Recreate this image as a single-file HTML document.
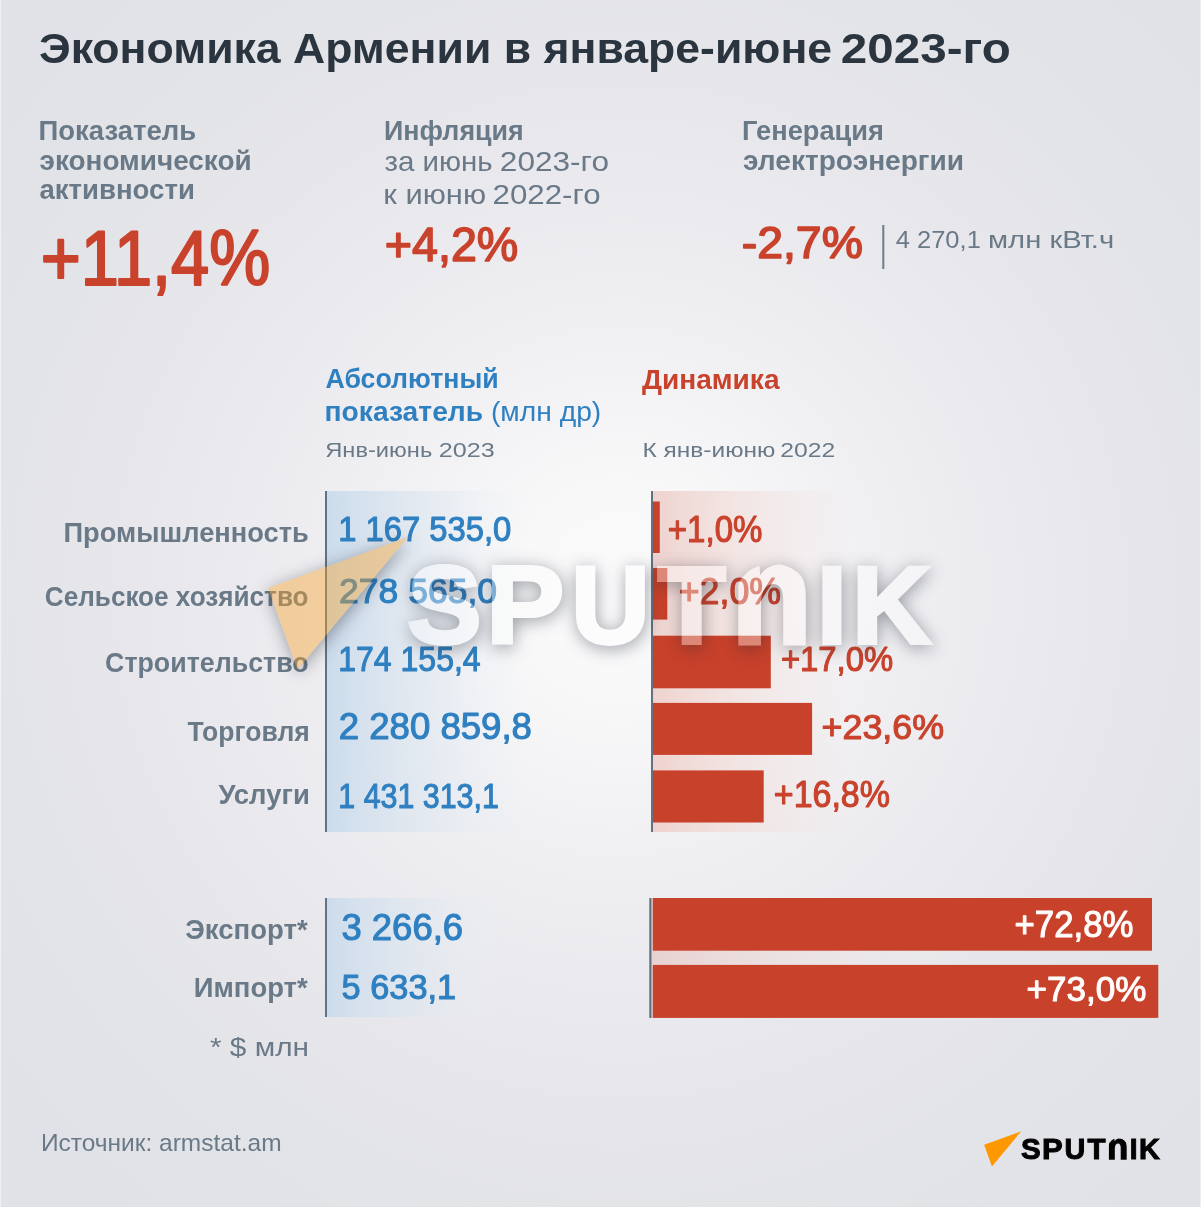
<!DOCTYPE html>
<html lang="ru"><head><meta charset="utf-8"><title>Экономика Армении в январе-июне 2023-го</title>
<style>
html,body{margin:0;padding:0;background:#e3e4e9;}
body{width:1201px;height:1207px;overflow:hidden;position:relative;}
svg{display:block;position:absolute;left:0;top:0;}
text{font-family:'Liberation Sans', 'Noto Sans CJK SC', sans-serif;}
</style></head><body>
<svg width="1201" height="1207" viewBox="0 0 1201 1207">
<defs>
 <radialGradient id="bg" gradientUnits="userSpaceOnUse" cx="620" cy="590" r="800">
  <stop offset="0" stop-color="#fbfbfc"/>
  <stop offset="0.14" stop-color="#f8f8f9"/>
  <stop offset="0.3" stop-color="#f1f1f4"/>
  <stop offset="0.475" stop-color="#ebebef"/>
  <stop offset="0.63" stop-color="#e7e7eb"/>
  <stop offset="0.8" stop-color="#e3e4e8"/>
  <stop offset="1" stop-color="#e1e2e7"/>
 </radialGradient>
 <linearGradient id="blueg" x1="0" y1="0" x2="1" y2="0">
  <stop offset="0" stop-color="#ccdcec" stop-opacity="1"/>
  <stop offset="0.45" stop-color="#dbe5ef" stop-opacity="0.65"/>
  <stop offset="1" stop-color="#e8edf3" stop-opacity="0"/>
 </linearGradient>
 <linearGradient id="redg" x1="0" y1="0" x2="1" y2="0">
  <stop offset="0" stop-color="#efd3cf" stop-opacity="1"/>
  <stop offset="0.45" stop-color="#f1dfdc" stop-opacity="0.65"/>
  <stop offset="1" stop-color="#f2e8e8" stop-opacity="0"/>
 </linearGradient>
 <linearGradient id="redg2" x1="0" y1="0" x2="1" y2="0">
  <stop offset="0" stop-color="#e8d2d1" stop-opacity="1"/>
  <stop offset="0.45" stop-color="#ecdcdc" stop-opacity="0.65"/>
  <stop offset="1" stop-color="#eee6e8" stop-opacity="0"/>
 </linearGradient>
 <filter id="wmsh" x="-20%" y="-60%" width="140%" height="220%" color-interpolation-filters="sRGB">
  <feGaussianBlur in="SourceAlpha" stdDeviation="8.5" result="blur"/>
  <feOffset in="blur" dx="1" dy="3" result="off"/>
  <feComposite in="off" in2="SourceAlpha" operator="out" result="ko"/>
  <feFlood flood-color="#1c2230" flood-opacity="0.42"/>
  <feComposite in2="ko" operator="in"/>
 </filter>
<clipPath id="nclip" clipPathUnits="userSpaceOnUse"><rect x="736.8" y="563.6" width="71.2" height="150" rx="35.6" ry="30"/></clipPath>
 <filter id="nop" x="-5%" y="-5%" width="110%" height="110%"><feOffset dx="0" dy="0"/></filter>
</defs>
<rect x="0" y="0" width="1201" height="1207" fill="url(#bg)"/>
<rect x="0" y="0" width="1" height="1207" fill="#f0f0f3"/>
<rect x="1200" y="0" width="1" height="1207" fill="#eeeef1"/>

<rect x="327" y="491" width="200" height="341" fill="url(#blueg)"/>
<rect x="327" y="898" width="175" height="119" fill="url(#blueg)"/>
<rect x="653" y="491" width="215" height="341" fill="url(#redg)"/>
<rect x="651.5" y="898" width="300" height="120" fill="url(#redg2)"/>
<rect x="652" y="501.5" width="7.8" height="51.5" fill="#c8412a"/>
<rect x="652" y="568" width="15.3" height="51.6" fill="#c8412a"/>
<rect x="652" y="635.7" width="118.8" height="52.6" fill="#c8412a"/>
<rect x="652" y="702.9" width="160.1" height="52" fill="#c8412a"/>
<rect x="652" y="770.4" width="111.7" height="52.1" fill="#c8412a"/>
<rect x="652.8" y="898" width="499.2" height="52.7" fill="#c8412a"/>
<rect x="652.8" y="964.9" width="505.5" height="53" fill="#c8412a"/>
<g opacity="0.99">
<text transform="translate(38.94 63) scale(1.0618 1)" font-size="42" font-weight="700" fill="#29333e">Экономика Армении в январе-июне</text>
<text transform="translate(840.87 63) scale(1.1324 1)" font-size="42" font-weight="700" fill="#29333e">2023-го</text>
<text transform="translate(38.52 140) scale(0.9821 1)" font-size="28" font-weight="700" fill="#687886">Показатель</text>
<text transform="translate(39.5 170) scale(0.9973 1)" font-size="28" font-weight="700" fill="#687886">экономической</text>
<text transform="translate(39.5 199) scale(0.9846 1)" font-size="28" font-weight="700" fill="#687886">активности</text>
<text transform="translate(40.81 285) scale(0.8906 1)" font-size="77" font-weight="400" fill="#c9402a" stroke="#c9402a" stroke-width="2.2" stroke-linejoin="round">+11,4%</text>
<text transform="translate(384.04 140) scale(0.9589 1)" font-size="28" font-weight="700" fill="#687886">Инфляция</text>
<text transform="translate(384.4 171) scale(1.0519 1)" font-size="28" font-weight="400" fill="#687886">за июнь</text>
<text transform="translate(499.87 171) scale(1.1280 1)" font-size="28" font-weight="400" fill="#687886">2023-го</text>
<text transform="translate(383.3 204) scale(1.1039 1)" font-size="28" font-weight="400" fill="#687886">к июню</text>
<text transform="translate(492.48 204) scale(1.1175 1)" font-size="28" font-weight="400" fill="#687886">2022-го</text>
<text transform="translate(384.83 261) scale(0.9715 1)" font-size="48" font-weight="400" fill="#c9402a" stroke="#c9402a" stroke-width="1.6" stroke-linejoin="round">+4,2%</text>
<text transform="translate(742.03 140) scale(0.9728 1)" font-size="28" font-weight="700" fill="#687886">Генерация</text>
<text transform="translate(743 170) scale(1.0034 1)" font-size="28" font-weight="700" fill="#687886">электроэнергии</text>
<text transform="translate(741.76 258.3) scale(1.0306 1)" font-size="45" font-weight="400" fill="#c9402a" stroke="#c9402a" stroke-width="1.6" stroke-linejoin="round">-2,7%</text>
<text transform="translate(895.7 248.3) scale(1.1100 1)" font-size="23" font-weight="400" fill="#687886">4 270,1</text>
<text transform="translate(988.03 248.3) scale(1.2708 1)" font-size="23" font-weight="400" fill="#687886">млн кВт.ч</text>
<text transform="translate(325.5 388) scale(0.9540 1)" font-size="28" font-weight="700" fill="#2d7fc1">Абсолютный</text>
<text transform="translate(324.49 421) scale(1.0085 1)" font-size="28" font-weight="700" fill="#2d7fc1"><tspan font-weight="700">показатель</tspan><tspan font-weight="400"> (млн др)</tspan></text>
<text transform="translate(325.2 457) scale(1.1285 1)" font-size="21" font-weight="400" fill="#687886">Янв-июнь</text>
<text transform="translate(438.7 457) scale(1.1990 1)" font-size="21" font-weight="400" fill="#687886">2023</text>
<text transform="translate(642 389) scale(1.0030 1)" font-size="28" font-weight="700" fill="#c9402a">Динамика</text>
<text transform="translate(642.53 457) scale(1.1660 1)" font-size="21" font-weight="400" fill="#687886">К янв-июню</text>
<text transform="translate(780.32 457) scale(1.1768 1)" font-size="21" font-weight="400" fill="#687886">2022</text>
<text transform="translate(63.53 542) scale(0.9734 1)" font-size="28" font-weight="700" fill="#687886">Промышленность</text>
<text transform="translate(44.87 605.6) scale(0.9330 1)" font-size="28" font-weight="700" fill="#687886">Сельское хозяйство</text>
<text transform="translate(105.04 672) scale(0.9567 1)" font-size="28" font-weight="700" fill="#687886">Строительство</text>
<text transform="translate(187.5 741) scale(0.9493 1)" font-size="28" font-weight="700" fill="#687886">Торговля</text>
<text transform="translate(218.5 803.6) scale(0.9806 1)" font-size="28" font-weight="700" fill="#687886">Услуги</text>
<text transform="translate(338.28 541.4) scale(0.9105 1)" font-size="36" font-weight="400" fill="#2d7fc1" stroke="#2d7fc1" stroke-width="1.1" stroke-linejoin="round">1 167 535,0</text>
<text transform="translate(339.06 603.4) scale(0.9866 1)" font-size="36" font-weight="400" fill="#2d7fc1" stroke="#2d7fc1" stroke-width="1.1" stroke-linejoin="round">278 565,0</text>
<text transform="translate(338.21 671.4) scale(0.8898 1)" font-size="36" font-weight="400" fill="#2d7fc1" stroke="#2d7fc1" stroke-width="1.1" stroke-linejoin="round">174 155,4</text>
<text transform="translate(338.74 738.9) scale(1.0161 1)" font-size="36" font-weight="400" fill="#2d7fc1" stroke="#2d7fc1" stroke-width="1.1" stroke-linejoin="round">2 280 859,8</text>
<text transform="translate(338.28 807.6) scale(0.8446 1)" font-size="36" font-weight="400" fill="#2d7fc1" stroke="#2d7fc1" stroke-width="1.1" stroke-linejoin="round">1 431 313,1</text>
<text transform="translate(667.79 542.1) scale(0.9181 1)" font-size="36" font-weight="400" fill="#c9402a" stroke="#c9402a" stroke-width="1.1" stroke-linejoin="round">+1,0%</text>
<text transform="translate(678.75 603.5) scale(0.9925 1)" font-size="36" font-weight="400" fill="#c9402a" stroke="#c9402a" stroke-width="1.1" stroke-linejoin="round">+2,0%</text>
<text transform="translate(780.89 671.3) scale(0.9117 1)" font-size="36" font-weight="400" fill="#c9402a" stroke="#c9402a" stroke-width="1.1" stroke-linejoin="round">+17,0%</text>
<text transform="translate(821.55 739.1) scale(0.9960 1)" font-size="36" font-weight="400" fill="#c9402a" stroke="#c9402a" stroke-width="1.1" stroke-linejoin="round">+23,6%</text>
<text transform="translate(773.78 807.4) scale(0.9444 1)" font-size="36" font-weight="400" fill="#c9402a" stroke="#c9402a" stroke-width="1.1" stroke-linejoin="round">+16,8%</text>
<text transform="translate(185.2 939) scale(0.9848 1)" font-size="28" font-weight="700" fill="#687886">Экспорт*</text>
<text transform="translate(193.82 996.7) scale(0.9809 1)" font-size="28" font-weight="700" fill="#687886">Импорт*</text>
<text transform="translate(341.44 940) scale(1.0127 1)" font-size="36" font-weight="400" fill="#2d7fc1" stroke="#2d7fc1" stroke-width="1.1" stroke-linejoin="round">3 266,6</text>
<text transform="translate(341.47 999) scale(0.9556 1)" font-size="36" font-weight="400" fill="#2d7fc1" stroke="#2d7fc1" stroke-width="1.1" stroke-linejoin="round">5 633,1</text>
<text transform="translate(210 1055.9) scale(1.1461 1)" font-size="26" font-weight="400" fill="#687886">* $ млн</text>
<text transform="translate(1014.57 937) scale(0.9657 1)" font-size="36" font-weight="400" fill="#ffffff" stroke="#ffffff" stroke-width="1.1" stroke-linejoin="round">+72,8%</text>
<text transform="translate(1026.56 1001) scale(0.9739 1)" font-size="36" font-weight="400" fill="#ffffff" stroke="#ffffff" stroke-width="1.1" stroke-linejoin="round">+73,0%</text>
<text transform="translate(40.93 1150.75) scale(1.0655 1)" font-size="23" font-weight="400" fill="#687886">Источник: armstat.am</text>
</g>
<rect x="882.3" y="225" width="2" height="44" fill="#6e7c89"/>
<rect x="325" y="491" width="2" height="341" fill="#637281"/>
<rect x="325" y="898" width="2" height="119" fill="#637281"/>
<rect x="651" y="491" width="2" height="341" fill="#637281"/>
<rect x="649.3" y="898" width="2.2" height="120" fill="#607080"/>
<g filter="url(#wmsh)" fill="#000" stroke="#000" stroke-width="3.8" stroke-linejoin="miter">
<polygon points="407.9,537 268,588 297.5,669.4" stroke="none"/>
<text transform="translate(407.2 642.6) scale(1.0205 1)" font-size="109" font-weight="700">S</text>
<text transform="translate(486.34 642.6) scale(1.0716 1)" font-size="109" font-weight="700">P</text>
<text transform="translate(571.21 642.6) scale(0.9955 1)" font-size="109" font-weight="700">U</text>
<text transform="translate(657.74 642.6) scale(1.0196 1)" font-size="109" font-weight="700">T</text>
<g clip-path="url(#nclip)"><text transform="translate(731.39 642.6) scale(1.2024 1.2867)" font-size="109" font-weight="700">n</text></g>
<text transform="translate(817.24 642.6) scale(0.9697 1)" font-size="109" font-weight="700">I</text>
<text transform="translate(852.29 642.6) scale(0.9996 1)" font-size="109" font-weight="700">K</text>
</g>
<polygon points="407.9,537 268,588 297.5,669.4" fill="#f9a12a" opacity="0.42"/>
<g opacity="0.37" fill="#fff" stroke="#fff" stroke-width="3.8" stroke-linejoin="miter">
<text transform="translate(407.2 642.6) scale(1.0205 1)" font-size="109" font-weight="700">S</text>
<text transform="translate(486.34 642.6) scale(1.0716 1)" font-size="109" font-weight="700">P</text>
<text transform="translate(571.21 642.6) scale(0.9955 1)" font-size="109" font-weight="700">U</text>
<text transform="translate(657.74 642.6) scale(1.0196 1)" font-size="109" font-weight="700">T</text>
<g clip-path="url(#nclip)"><text transform="translate(731.39 642.6) scale(1.2024 1.2867)" font-size="109" font-weight="700">n</text></g>
<text transform="translate(817.24 642.6) scale(0.9697 1)" font-size="109" font-weight="700">I</text>
<text transform="translate(852.29 642.6) scale(0.9996 1)" font-size="109" font-weight="700">K</text>
</g>
<g opacity="0.99" filter="url(#nop)" transform="translate(1021 1159.8) scale(0.26525) translate(-407 -644.5)">
<polygon points="407.9,537 268,588 297.5,669.4" fill="#ff9800"/>
<g fill="#000" stroke="#000" stroke-width="3.8" stroke-linejoin="miter">
<text transform="translate(407.2 642.6) scale(1.0205 1)" font-size="109" font-weight="700">S</text>
<text transform="translate(486.34 642.6) scale(1.0716 1)" font-size="109" font-weight="700">P</text>
<text transform="translate(571.21 642.6) scale(0.9955 1)" font-size="109" font-weight="700">U</text>
<text transform="translate(657.74 642.6) scale(1.0196 1)" font-size="109" font-weight="700">T</text>
<g clip-path="url(#nclip)"><text transform="translate(731.39 642.6) scale(1.2024 1.2867)" font-size="109" font-weight="700">n</text></g>
<text transform="translate(817.24 642.6) scale(0.9697 1)" font-size="109" font-weight="700">I</text>
<text transform="translate(852.29 642.6) scale(0.9996 1)" font-size="109" font-weight="700">K</text>
</g></g>
</svg>
</body></html>
